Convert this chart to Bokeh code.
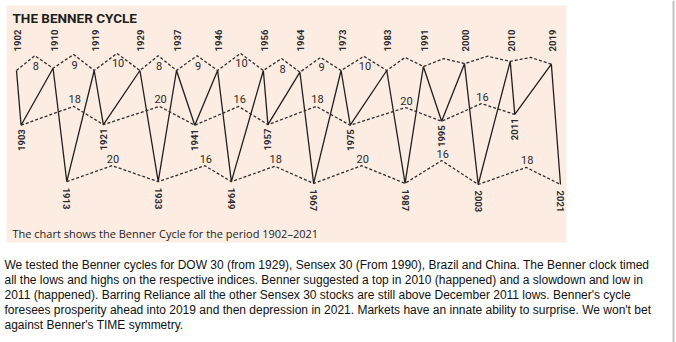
import math
from bokeh.plotting import figure
from bokeh.models import Range1d
from bokeh.core.properties import value
from bokeh.embed import file_html
from bokeh.resources import INLINE

# ---------------- data ----------------
title_text = "THE BENNER CYCLE"
caption_text = "The chart shows the Benner Cycle for the period 1902\u20132021"
paragraph_lines = [
    "We tested the Benner cycles for DOW 30 (from 1929), Sensex 30 (From 1990), Brazil and China. The Benner clock timed",
    "all the lows and highs on the respective indices. Benner suggested a top in 2010 (happened) and a slowdown and low in",
    "2011 (happened). Barring Reliance all the other Sensex 30 stocks are still above December 2011 lows. Benner's cycle",
    "foresees prosperity ahead into 2019 and then depression in 2021. Markets have an innate ability to surprise. We won't bet",
    "against Benner's TIME symmetry.",
]

top_years = [1902, 1910, 1919, 1929, 1937, 1946, 1956, 1964, 1973, 1983, 1991, 2000, 2010, 2019]
top_level = [20.0, 20.4, 20.0, 20.0, 20.0, 20.0, 20.0, 19.7, 20.0, 20.0, 20.7, 21.2, 21.6, 21.1]
mid_years = [1903, 1921, 1941, 1957, 1975, 1995, 2011]
mid_level = [10.4, 10.5, 10.4, 10.5, 10.4, 11.1, 12.3]
low_years = [1913, 1933, 1949, 1967, 1987, 2003, 2021]
low_level = [0.5, 0.5, 0.5, 0.2, 0.2, 0.0, 0.0]

top_gap_labels = ["8", "9", "10", "8", "9", "10", "8", "9", "10", "", "", "", ""]
top_apex_years = [1906, 1914.5, 1924, 1933, 1941.5, 1951, 1960, 1968.5, 1978, 1987, 1995.5, 2005, 2014.5]
top_apex_level = [22.6, 22.8, 23.0, 22.6, 22.6, 23.0, 22.1, 22.3, 22.5, 22.3, 22.1, 22.5, 22.3]

mid_gap_labels = ["18", "20", "16", "18", "20", "16"]
mid_apex_years = [1914.5, 1933.3, 1950.6, 1967.6, 1987.1, 2003.7]
mid_apex_level = [13.7, 13.7, 13.7, 13.7, 13.5, 14.2]

low_gap_labels = ["20", "16", "18", "20", "16", "18"]
low_apex_years = [1922.9, 1943.2, 1958.5, 1977.5, 1995.0, 2013.5]
low_apex_level = [3.3, 3.3, 3.2, 3.3, 4.2, 3.0]

# ---------------- layout ----------------
W, H = 676, 342
PX_PER_YEAR = 4.5714
PX_PER_UNIT = 5.7
X0 = 1902 - 16 / PX_PER_YEAR
Y_TOP = 184 / PX_PER_UNIT


def X(px):
    return X0 + px / PX_PER_YEAR


def Y(py):
    return Y_TOP - py / PX_PER_UNIT


LABEL_FONT = value("Roboto")
BODY_FONT = value("Liberation Sans")
CAP_FONT = value("Open Sans")

p = figure(width=W, height=H, output_backend="svg", toolbar_location=None,
           x_range=Range1d(X0, X0 + W / PX_PER_YEAR),
           y_range=Range1d(Y_TOP - H / PX_PER_UNIT, Y_TOP),
           x_axis_type=None, y_axis_type=None, min_border=0,
           min_border_left=0, min_border_right=0, min_border_top=0, min_border_bottom=0)
p.grid.visible = False
p.outline_line_color = None
p.background_fill_color = "white"
p.border_fill_color = "white"

# panel background and right rule
p.quad(left=X(6), right=X(566), top=Y(5), bottom=Y(242), fill_color="#fcece2", line_color=None)
p.quad(left=X(672), right=X(674), top=Y(0), bottom=Y(342), fill_color="#c4c4c4", line_color=None)

# solid Benner path
pts = sorted(list(zip(top_years, top_level)) + list(zip(mid_years, mid_level)) + list(zip(low_years, low_level)))
p.line([a for a, b in pts], [b for a, b in pts], line_color="#1f1f1f", line_width=1.3)


def zig(years, levels, ax, al):
    xs, ys = [years[0]], [levels[0]]
    for i in range(len(years) - 1):
        xs += [ax[i], years[i + 1]]
        ys += [al[i], levels[i + 1]]
    return xs, ys


for yrs, lv, ax, al in [(top_years, top_level, top_apex_years, top_apex_level),
                        (mid_years, mid_level, mid_apex_years, mid_apex_level),
                        (low_years, low_level, low_apex_years, low_apex_level)]:
    xs, ys = zig(yrs, lv, ax, al)
    p.line(xs, ys, line_color="#2e2e2e", line_width=1.3, line_dash="3 2")

# gap numbers
num_style = dict(text_font=LABEL_FONT, text_font_size="11px", text_color="#2b2b2b",
                 text_align="center", text_baseline="middle")
p.text(x=top_apex_years, y=top_apex_level, text=top_gap_labels, x_offset=1, y_offset=10, **num_style)
p.text(x=mid_apex_years, y=mid_apex_level, text=mid_gap_labels, x_offset=1, y_offset=-7, **num_style)
p.text(x=low_apex_years, y=low_apex_level, text=low_gap_labels, x_offset=1, y_offset=-7, **num_style)

# year labels
yr_style = dict(text_font=LABEL_FONT, text_font_size="9.5px", text_font_style="bold",
                text_color="#2b2b2b", text_baseline="middle")
p.text(x=top_years, y=[Y(40)] * len(top_years), text=[str(v) for v in top_years],
       angle=math.pi / 2, text_align="center", x_offset=1, **yr_style)
p.text(x=mid_years, y=mid_level, text=[str(v) for v in mid_years],
       angle=math.pi / 2, text_align="right", y_offset=4, **yr_style)
p.text(x=low_years, y=low_level, text=[str(v) for v in low_years],
       angle=-math.pi / 2, text_align="left", y_offset=6, **yr_style)

# title and caption
p.text(x=[X(12)], y=[Y(17)], text=[title_text], text_font=LABEL_FONT, text_font_size="13.5px",
       text_font_style="bold", text_color="#1e1e1e", text_baseline="middle")
p.text(x=[X(12)], y=[Y(233)], text=[caption_text], text_font=CAP_FONT, text_font_size="11px",
       text_color="#1e1e1e", text_baseline="middle")

# paragraph
p.text(x=[X(4)] * len(paragraph_lines), y=[Y(264 + 15 * i) for i in range(len(paragraph_lines))],
       text=paragraph_lines, text_font=BODY_FONT, text_font_size="12px", text_color="#111111",
       text_baseline="middle")

open("out.html", "w").write(file_html(p, INLINE))
